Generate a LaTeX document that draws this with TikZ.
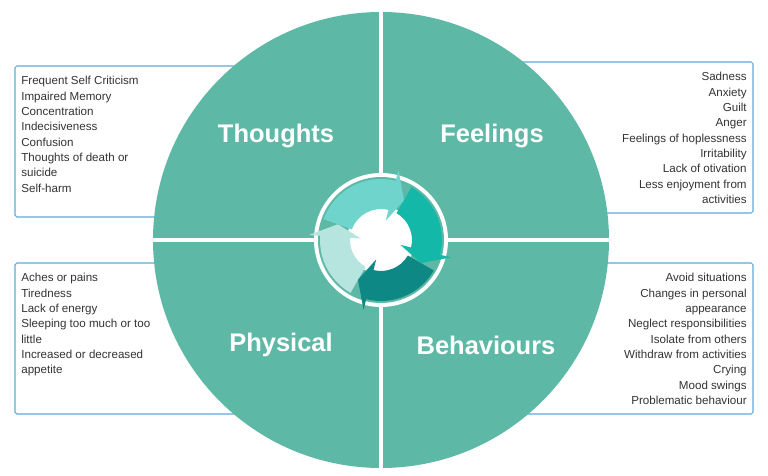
\documentclass[tikz,border=0pt]{standalone}
\usepackage{fontspec}
\setmainfont{Liberation Sans}
\usetikzlibrary{positioning}
\definecolor{quad}{RGB}{93,185,166}
\definecolor{boxline}{RGB}{95,170,215}
\definecolor{arA}{RGB}{110,212,204}
\definecolor{arB}{RGB}{20,184,168}
\definecolor{arC}{RGB}{14,136,132}
\definecolor{arD}{RGB}{182,229,224}
\newcommand{\cycarrow}[3]{%
  \fill[#3] (#1:61) arc[start angle=#1,end angle=#2+16,radius=61]
    -- (#2+16:72) -- (#2:46) -- (#2+16:20) -- (#2+16:31)
    arc[start angle=#2+16,end angle=#1,radius=31] -- cycle;}
\tikzset{
  listbox/.style={draw=boxline,line width=0.6pt,fill=white,rounded corners=1pt},
  listtxt/.style={font=\fontsize{6.6}{8.75}\selectfont,text=black!80,inner sep=0pt},
  title/.style={font=\fontsize{14.5}{16}\selectfont\bfseries,text=white}
}
\begin{document}
\begin{tikzpicture}[x=0.02cm,y=-0.02cm]
\useasboundingbox (0,0) rectangle (768,476);
\fill[white] (0,0) rectangle (768,476);

% list boxes
\draw[listbox] (15,66) rectangle (300,217);
\draw[listbox] (470,62) rectangle (753,213);
\draw[listbox] (15,263) rectangle (300,414);
\draw[listbox] (470,263) rectangle (753,414);

% circle and quadrants
\fill[quad] (381,240) circle[radius=228];
\draw[white,line width=2.2pt] (381,10) -- (381,470) (151,240) -- (611,240);

\node[listtxt,align=left,anchor=north west] (tlist) at (21,76) {Frequent Self Criticism\\Impaired Memory\\Concentration\\Indecisiveness\\Confusion\\Thoughts of death or\\suicide\\Self-harm};
\node[listtxt,align=right,anchor=north east] (flist) at (747,72) {Sadness\\Anxiety\\Guilt\\Anger\\Feelings of hoplessness\\Irritability\\Lack of otivation\\Less enjoyment from\\activities};
\node[listtxt,align=left,anchor=north west] (plist) at (21,273) {Aches or pains\\Tiredness\\Lack of energy\\Sleeping too much or too\\little\\Increased or decreased\\appetite};
\node[listtxt,align=right,anchor=north east] (blist) at (747,273) {Avoid situations\\Changes in personal\\appearance\\Neglect responsibilities\\Isolate from others\\Withdraw from activities\\Crying\\Mood swings\\Problematic behaviour};

\node[title] (thoughts) at (276,136) {Thoughts};
\node[title] (feelings) at (492,136) {Feelings};
\node[title] (physical) at (281,345) {Physical};
\node[title] (behaviours) at (486,345) {Behaviours};

% cycle in the middle
\begin{scope}[shift={(381,240)},yscale=-1]
\fill[white] (0,0) circle[radius=67];
\fill[quad] (0,0) circle[radius=63];
\fill[white] (0,0) circle[radius=34];
\cycarrow{240}{160}{arD}
\cycarrow{330}{240}{arC}
\cycarrow{60}{-30}{arB}
\cycarrow{160}{60}{arA}
\end{scope}
\end{tikzpicture}
\end{document}
